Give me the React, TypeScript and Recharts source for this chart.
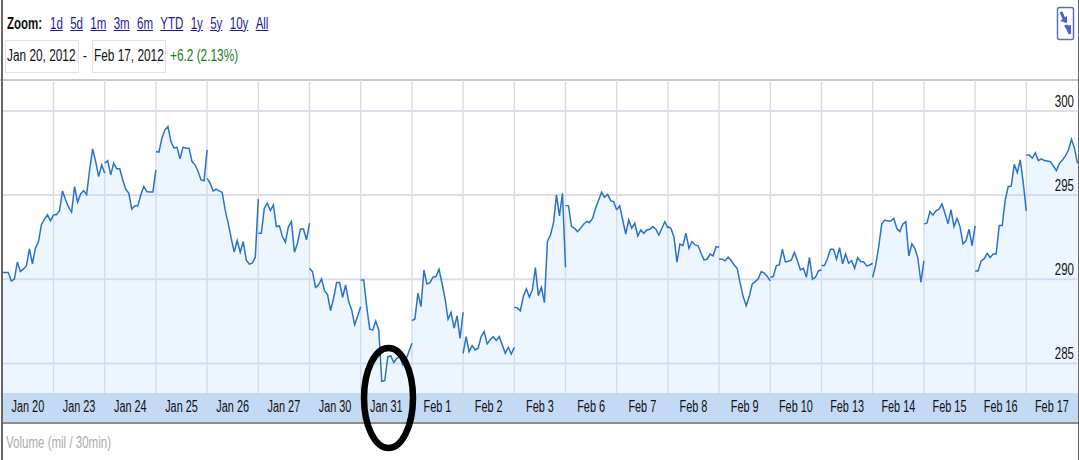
import { AreaChart, Area, XAxis, YAxis, CartesianGrid } from 'recharts'

const dayLabels = ['Jan 20', 'Jan 23', 'Jan 24', 'Jan 25', 'Jan 26', 'Jan 27', 'Jan 30', 'Jan 31', 'Feb 1', 'Feb 2', 'Feb 3', 'Feb 6', 'Feb 7', 'Feb 8', 'Feb 9', 'Feb 10', 'Feb 13', 'Feb 14', 'Feb 15', 'Feb 16', 'Feb 17']
const priceTicks = [285, 290, 295, 300]
const zoomLinks = ['1d', '5d', '1m', '3m', '6m', 'YTD', '1y', '5y', '10y', 'All']

const jan20 = [290.4, 290.4, 290.4, 289.89, 290.01, 291.02, 290.46, 290.6, 290.8, 291.81, 290.92, 291.85, 292.22, 293.25, 293.57, 293.83, 293.47, 293.83]
const jan23 = [293.83, 293.83, 294.08, 295.25, 294.72, 294.28, 293.99, 295.51, 294.58, 295.07, 295.27, 295.03, 296.5, 297.75, 296.99, 296.1, 296.8, 296.3]
const jan24 = [296.9, 297.05, 296.2, 296.9, 296.56, 296.56, 295.9, 295.35, 295.11, 294.16, 294.36, 294.36, 295.02, 295.51, 295.21, 295.19, 295.19, 296.5]
const jan25 = [297.59, 297.55, 298.38, 298.88, 299.07, 298.18, 297.79, 297.85, 297.15, 297.85, 297.79, 297.79, 296.99, 296.8, 296.4, 295.9, 295.85, 297.69]
const jan26 = [296.0, 295.71, 295.25, 295.35, 295.25, 295.17, 294.12, 293.33, 292.44, 291.61, 292.3, 291.61, 292.24, 291.15, 290.9, 290.96, 291.31, 294.76]
const jan27 = [292.74, 292.74, 294.22, 294.52, 294.08, 294.42, 293.13, 293.17, 292.54, 292.2, 293.13, 293.43, 291.61, 292.14, 292.98, 292.98, 292.34, 293.33]
const jan30 = [290.65, 290.45, 289.52, 289.66, 290.02, 289.32, 289.07, 288.14, 288.87, 289.8, 289.8, 288.93, 289.66, 288.67, 288.18, 287.3, 287.82, 288.37]
const jan31 = [289.96, 289.96, 288.37, 287.03, 286.99, 287.52, 286.99, 283.92, 283.98, 285.4, 285.44, 285.05, 285.3, 285.4, 284.91, 285.2, 285.7, 286.2]
const feb1 = [287.54, 287.64, 289.17, 288.37, 290.55, 289.72, 289.8, 290.12, 290.16, 290.59, 289.76, 288.87, 287.62, 288.02, 287.09, 287.82, 286.49, 288.04]
const feb2 = [285.6, 286.59, 285.7, 286.06, 285.8, 285.9, 286.59, 286.89, 286.16, 286.4, 286.59, 286.36, 286.59, 286.1, 285.6, 285.96, 285.56, 285.96]
const feb3 = [288.34, 288.3, 288.12, 288.97, 289.43, 288.93, 289.37, 290.69, 289.03, 289.52, 288.61, 292.24, 292.63, 293.33, 295.01, 293.76, 295.11, 290.71]
const feb6 = [294.38, 294.36, 293.13, 293.03, 292.83, 293.03, 293.27, 293.43, 293.37, 293.62, 294.22, 294.71, 295.17, 294.87, 295.05, 294.67, 294.61, 294.12]
const feb7 = [294.12, 294.36, 293.52, 292.69, 293.52, 293.03, 293.33, 292.57, 292.93, 292.73, 292.93, 292.97, 293.13, 292.97, 292.63, 293.03, 293.42, 293.03]
const feb8 = [293.13, 293.03, 292.53, 291.01, 292.1, 292.0, 292.73, 291.84, 292.24, 292.04, 292.0, 291.54, 291.15, 291.19, 291.5, 291.39, 291.94, 291.9]
const feb9 = [291.21, 291.19, 291.09, 291.31, 291.11, 290.85, 290.65, 289.76, 288.97, 288.42, 288.97, 289.72, 289.86, 290.02, 290.46, 290.36, 290.16, 289.9]
const feb10 = [290.12, 290.16, 290.81, 290.85, 291.78, 291.03, 291.07, 291.15, 291.6, 291.11, 290.55, 290.65, 290.12, 291.3, 290.0, 290.12, 290.51, 290.55]
const feb13 = [290.81, 290.81, 291.25, 291.78, 291.78, 291.19, 291.88, 290.91, 291.5, 290.95, 291.11, 290.65, 291.28, 291.05, 291.03, 290.79, 290.85, 290.95]
const feb14 = [290.12, 290.85, 291.94, 293.28, 293.52, 293.46, 293.46, 293.62, 293.03, 292.83, 293.28, 293.42, 291.38, 292.1, 291.84, 291.25, 289.82, 291.09]
const feb15 = [293.29, 293.33, 294.02, 293.82, 294.06, 294.16, 294.47, 293.92, 293.29, 294.12, 293.13, 293.62, 293.13, 292.1, 292.3, 292.97, 292.0, 293.17]
const feb16 = [290.49, 290.49, 291.09, 291.21, 291.54, 291.29, 291.5, 291.5, 293.19, 293.19, 294.71, 295.5, 295.54, 296.83, 296.34, 297.09, 295.7, 294.06]
const feb17 = [297.39, 297.39, 297.19, 297.52, 297.05, 297.15, 297.05, 297.03, 296.99, 296.73, 296.45, 296.89, 297.09, 297.33, 297.68, 298.32, 297.78, 296.89]

const days = [jan20, jan23, jan24, jan25, jan26, jan27, jan30, jan31, feb1, feb2, feb3, feb6, feb7, feb8, feb9, feb10, feb13, feb14, feb15, feb16, feb17]

// one row per reading, with a null row between sessions so the line breaks there
const rows: { t: number; price: number | null }[] = []
days.forEach((values, d) => {
  values.forEach((price, i) => rows.push({ t: d + i / (values.length - 1), price }))
  rows.push({ t: d + 1, price: null })
})

const dayEdges = dayLabels.map((_, i) => i)
const dayCentres = dayLabels.map((_, i) => i + 0.5)

// no condensed face is installed, so the narrow look comes from squeezing Liberation Sans
const font = '"Liberation Sans", Arial, sans-serif'
const squeeze = 0.72
const tickSqueeze = 0.68

function narrow(left: number, top: number, extra = {}) {
  return { position: 'absolute', left, top, whiteSpace: 'nowrap', transform: `scaleX(${squeeze})`, transformOrigin: 'left center', ...extra } as const
}

function DayTick({ x, y, payload }: any) {
  return (
    <text transform={`translate(${x},${y}) scale(${tickSqueeze},1)`} textAnchor="middle" dominantBaseline="central" fontFamily={font} fontSize={16} fill="#111">
      {dayLabels[Math.floor(payload.value)]}
    </text>
  )
}

function PriceTick({ y, payload }: any) {
  return (
    <text transform={`translate(1074,${y - 10}) scale(${squeeze},1)`} textAnchor="end" dominantBaseline="central" fontFamily={font} fontSize={16} fill="#111">
      {payload.value}
    </text>
  )
}

export default function App() {
  return (
    <div style={{ position: 'absolute', left: 0, top: 0, width: 1079, height: 460, overflow: 'hidden', background: '#fff', fontFamily: font, fontSize: 16, color: '#111' }}>
      <div style={narrow(7, 15, { fontWeight: 'bold' })}>Zoom:</div>
      <div style={narrow(50, 15, { display: 'flex', gap: 10.2 })}>
        {zoomLinks.map(z => (
          <a key={z} href="#" style={{ color: '#1a1aa6' }}>{z}</a>
        ))}
      </div>

      <div style={{ position: 'absolute', left: 5, top: 40, width: 72, height: 31, border: '1px solid #e2e2e2' }} />
      <div style={narrow(7, 47, { transform: 'scaleX(0.74)' })}>Jan 20, 2012</div>
      <div style={narrow(83, 47)}>-</div>
      <div style={{ position: 'absolute', left: 92, top: 40, width: 72, height: 31, border: '1px solid #e2e2e2' }} />
      <div style={narrow(94, 47, { transform: 'scaleX(0.74)' })}>Feb 17, 2012</div>
      <div style={narrow(170, 47, { color: '#1d7a1d', transform: 'scaleX(0.74)' })}>+6.2 (2.13%)</div>

      <svg style={{ position: 'absolute', left: 1056, top: 6 }} width={20} height={36}>
        <rect x={1.5} y={1.5} width={16} height={32} rx={2} fill="#fff" stroke="#5a70c0" strokeWidth={1.5} />
        <path d="M5 6 L9 15 M14 28 L10 19" stroke="#4a62c4" strokeWidth={3} />
        <path d="M4 15 L11 17 L11 10 Z M8 20 L15 19 L15 27 Z" fill="#4a62c4" />
      </svg>

      <div style={{ position: 'absolute', left: 0, top: 79, width: 1079, height: 2, background: '#c8c8c8' }} />
      <div style={{ position: 'absolute', left: 2, top: 393, width: 1076, height: 29, background: '#c4daf4' }} />
      <div style={{ position: 'absolute', left: 2, top: 422, width: 1076, height: 2, background: '#8c8c8c' }} />

      <AreaChart width={1079} height={460} data={rows} style={{ position: 'absolute', left: 0, top: 0 }} margin={{ top: 80, right: 1.5, bottom: 39, left: 2.3 }}>
        <CartesianGrid horizontal={false} stroke="#dcdcdf" strokeWidth={1.4} syncWithTicks />
        <CartesianGrid vertical={false} stroke="#dedeea" strokeWidth={2} syncWithTicks />
        <XAxis type="number" dataKey="t" domain={[0, 21]} ticks={dayEdges} interval={0} mirror axisLine={false} tickFormatter={() => ''} tickLine={{ stroke: '#777' }} tickSize={10} height={0} />
        <XAxis xAxisId="labels" type="number" dataKey="t" domain={[0, 21]} ticks={dayCentres} interval={0} axisLine={false} tickLine={false} tickSize={0} tickMargin={14} height={28} tick={DayTick} />
        <YAxis type="number" orientation="right" mirror domain={[283.24, 301.84]} allowDataOverflow ticks={priceTicks} interval={0} axisLine={false} tickLine={false} tickSize={0} tick={PriceTick} />
        <Area type="linear" dataKey="price" stroke="#2a72c8" strokeWidth={1.5} fill="#b9deff" fillOpacity={0.26} connectNulls={false} dot={false} activeDot={false} isAnimationActive={false} />
      </AreaChart>

      <div style={narrow(6, 434, { color: '#aaa' })}>Volume (mil / 30min)</div>

      <svg style={{ position: 'absolute', left: 0, top: 0, pointerEvents: 'none' }} width={1079} height={460}>
        <ellipse cx={388.5} cy={398} rx={24.5} ry={50} fill="none" stroke="#000" strokeWidth={6.5} />
      </svg>

      <div style={{ position: 'absolute', left: 1, top: 0, width: 1.5, height: 460, background: '#666' }} />
      <div style={{ position: 'absolute', left: 1077.5, top: 0, width: 1.5, height: 460, background: '#666' }} />
    </div>
  )
}
